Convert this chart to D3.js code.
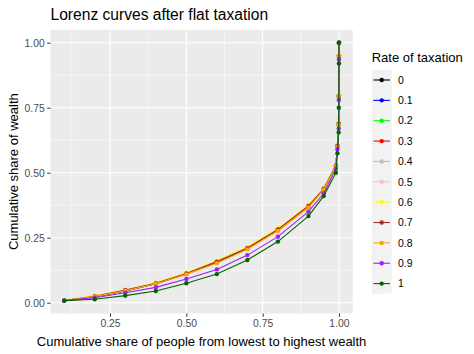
<!DOCTYPE html>
<html><head><meta charset="utf-8">
<script src="https://cdn.jsdelivr.net/npm/d3@7"></script>
<style>body{margin:0;background:#fff}svg{display:block;font-family:"Liberation Sans",Arial,sans-serif}</style>
</head><body><svg id="c" width="474" height="354"></svg>
<script>
const rates = ["0","0.1","0.2","0.3","0.4","0.5","0.6","0.7","0.8","0.9","1"];
const colors = ["#000000","#0000FF","#00FF00","#FF0000","#BEBEBE","#FFC0CB","#FFFF00","#A52A2A","#FFA500","#A020F0","#006400"];
const xs = [0.1,0.2,0.3,0.4,0.5,0.6,0.7,0.8,0.9,0.95,0.99,0.995,0.999,0.9995,0.9999,1];
const y0  = [0.008,0.023,0.045,0.073,0.110,0.156,0.209,0.280,0.370,0.436,0.526,0.603,0.686,0.796,0.950,1];
const y01 = [0.008,0.024,0.046,0.074,0.111,0.157,0.210,0.281,0.371,0.437,0.527,0.604,0.687,0.797,0.951,1];
const y02 = [0.008,0.025,0.047,0.075,0.112,0.158,0.211,0.282,0.372,0.437,0.527,0.604,0.687,0.797,0.952,1];
const y03 = [0.008,0.024,0.046,0.074,0.111,0.157,0.210,0.281,0.371,0.437,0.527,0.603,0.686,0.796,0.951,1];
const y04 = [0.008,0.025,0.047,0.075,0.112,0.158,0.211,0.282,0.372,0.438,0.528,0.605,0.688,0.798,0.952,1];
const y05 = [0.008,0.026,0.048,0.076,0.113,0.160,0.213,0.284,0.374,0.439,0.529,0.606,0.689,0.710,0.953,1];
const y06 = [0.008,0.027,0.049,0.077,0.115,0.162,0.215,0.286,0.376,0.440,0.530,0.607,0.690,0.800,0.955,1];
const y07 = [0.008,0.025,0.049,0.075,0.112,0.158,0.210,0.282,0.372,0.438,0.528,0.604,0.688,0.792,0.945,1];
const y08 = [0.008,0.024,0.046,0.073,0.109,0.152,0.205,0.276,0.366,0.435,0.525,0.600,0.685,0.795,0.950,1];
const y09 = [0.008,0.019,0.038,0.059,0.091,0.128,0.183,0.254,0.350,0.420,0.515,0.590,0.670,0.780,0.935,1];
const y10 = [0.008,0.013,0.027,0.045,0.075,0.110,0.164,0.235,0.333,0.410,0.500,0.575,0.655,0.750,0.920,1];
const series = [y0,y01,y02,y03,y04,y05,y06,y07,y08,y09,y10];
const xTicks = [0.25,0.5,0.75,1.0];
const yTicks = [0,0.25,0.5,0.75,1.0];
const xMinor = [0.125,0.375,0.625,0.875];
const yMinor = [0.125,0.375,0.625,0.875];

const svg = d3.select("#c");
const L=50.5,R=352.7,T=29.8,B=313.5;
const x = d3.scaleLinear().domain([0.055,1.045]).range([L,R]);
const y = d3.scaleLinear().domain([-0.0416,1.0496]).range([B,T]);

svg.append("rect").attr("x",L).attr("y",T).attr("width",R-L).attr("height",B-T).attr("fill","#EBEBEB");
const g = svg.append("g");
xMinor.forEach(v=>g.append("line").attr("x1",x(v)).attr("x2",x(v)).attr("y1",T).attr("y2",B).attr("stroke","#fff").attr("stroke-width",0.55));
yMinor.forEach(v=>g.append("line").attr("y1",y(v)).attr("y2",y(v)).attr("x1",L).attr("x2",R).attr("stroke","#fff").attr("stroke-width",0.55));
xTicks.forEach(v=>g.append("line").attr("x1",x(v)).attr("x2",x(v)).attr("y1",T).attr("y2",B).attr("stroke","#fff").attr("stroke-width",1.1));
yTicks.forEach(v=>g.append("line").attr("y1",y(v)).attr("y2",y(v)).attr("x1",L).attr("x2",R).attr("stroke","#fff").attr("stroke-width",1.1));

const line = d3.line().x((d,i)=>x(xs[i])).y(d=>y(d));
series.forEach((s,k)=>{
  svg.append("path").attr("d",line(s)).attr("fill","none").attr("stroke",colors[k]).attr("stroke-width",1.1);
  svg.selectAll(null).data(s).enter().append("circle").attr("cx",(d,i)=>x(xs[i])).attr("cy",d=>y(d)).attr("r",2.2).attr("fill",colors[k]);
});

// axes
const xa = svg.append("g").attr("transform",`translate(0,${B})`).call(d3.axisBottom(x).tickValues(xTicks).tickFormat(d3.format(".2f")).tickSize(3.3).tickPadding(2.5));
const ya = svg.append("g").attr("transform",`translate(${L},0)`).call(d3.axisLeft(y).tickValues(yTicks).tickFormat(d3.format(".2f")).tickSize(3.3).tickPadding(2.5));
[xa,ya].forEach(a=>{a.select(".domain").remove();a.selectAll("line").attr("stroke","#333");a.selectAll("text").attr("fill","#4D4D4D").attr("font-size","10.4px").attr("font-family","Liberation Sans, Arial, sans-serif");});

svg.append("text").attr("x",L).attr("y",19.5).attr("font-size","15.6px").attr("fill","#000").text("Lorenz curves after flat taxation");
svg.append("text").attr("x",(L+R)/2).attr("y",345.5).attr("text-anchor","middle").attr("font-size","13px").text("Cumulative share of people from lowest to highest wealth");
svg.append("text").attr("transform",`translate(17.5,${(T+B)/2}) rotate(-90)`).attr("text-anchor","middle").attr("font-size","13px").text("Cumulative share of wealth");

// legend
const lg = svg.append("g");
lg.append("text").attr("x",371.7).attr("y",61.8).attr("font-size","13px").text("Rate of taxation");
rates.forEach((r,k)=>{
  const cy = 80 + k*20.36;
  lg.append("rect").attr("x",371.7).attr("y",cy-10.18).attr("width",20).attr("height",20.36).attr("fill","#F2F2F2");
  lg.append("line").attr("x1",373.4).attr("x2",390).attr("y1",cy).attr("y2",cy).attr("stroke",colors[k]).attr("stroke-width",1.1);
  lg.append("circle").attr("cx",381.7).attr("cy",cy).attr("r",2.2).attr("fill",colors[k]);
  lg.append("text").attr("x",398).attr("y",cy+3.7).attr("font-size","10.4px").text(r);
});
</script></body></html>
